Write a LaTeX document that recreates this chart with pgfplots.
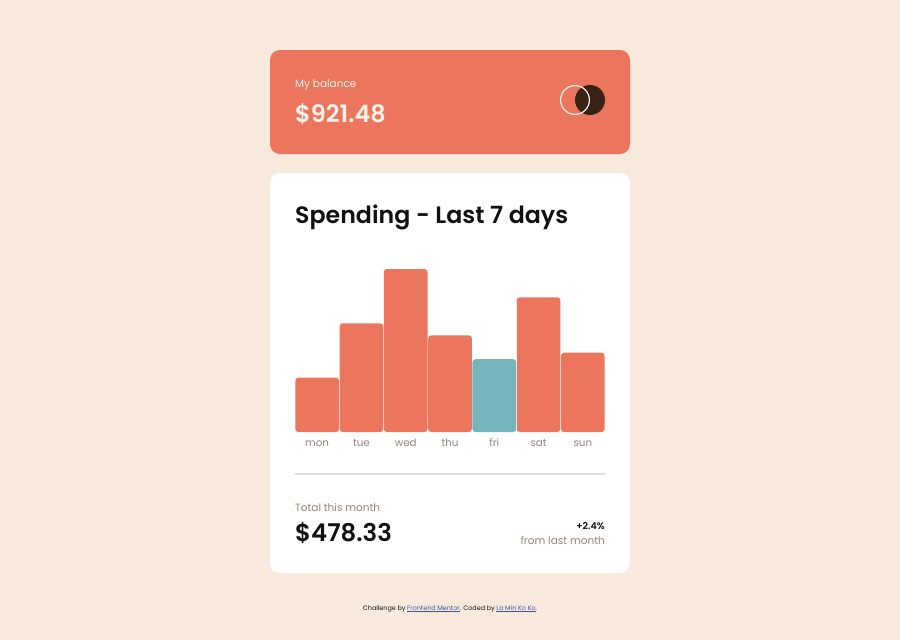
\documentclass[border=0pt]{standalone}
\usepackage{fontspec}
\setmainfont{Poppins}[BoldFont={Poppins SemiBold}]
\usepackage{pgfplots}
\pgfplotsset{compat=1.18}
\definecolor{cream}{HTML}{F8E9DD}
\definecolor{softred}{HTML}{EC755D}
\definecolor{cyanb}{HTML}{76B5BC}
\definecolor{darkbrown}{HTML}{382314}
\definecolor{medbrown}{HTML}{93867B}
\definecolor{paleorange}{HTML}{FFF3EA}
\definecolor{linecol}{HTML}{DEDAD5}
\definecolor{ink}{HTML}{111111}
\definecolor{linkblue}{HTML}{3E52A3}
\begin{document}
\begin{tikzpicture}[x=1pt,y=-1pt,every node/.style={inner sep=0pt}]
\fill[cream] (0,0) rectangle (900,640);
% balance card
\fill[softred, rounded corners=10pt] (270,50) rectangle (630,154);
\node[anchor=base west, text=paleorange, font=\fontsize{10.5}{12}\selectfont] at (295,87) {My balance};
\node[anchor=base west, text=paleorange, font=\fontsize{24}{28}\selectfont\bfseries] at (295,122) {\$921.48};
\fill[darkbrown] (590,100) circle[radius=15pt];
\draw[paleorange, line width=1.2pt] (575,100) circle[radius=14.4pt];
% main card
\fill[white, rounded corners=10pt] (270,173) rectangle (630,573);
\node[anchor=base west, text=ink, font=\fontsize{23.7}{30}\selectfont\bfseries] at (295,223) {Spending - Last 7 days};
\begin{axis}[
  at={(295pt,-432pt)}, anchor=south west,
  scale only axis, width=310pt, height=163pt,
  xmin=-0.5, xmax=6.5, ymin=0, ymax=52.36,
  clip=false,
  hide y axis,
  axis x line*=bottom,
  x axis line style={draw=none},
  xtick={0,1,2,3,4,5,6},
  xticklabels={mon,tue,wed,thu,fri,sat,sun},
  xtick style={draw=none},
  major tick length=0pt,
  xticklabel style={anchor=base, yshift=-14pt, text=medbrown, font=\fontsize{10.3}{12}\selectfont},
]
\addplot[ybar, bar width=43.6pt, bar shift=0pt, fill=softred, draw=none, rounded corners=3pt]
  coordinates {(0,17.45) (1,34.91) (2,52.36) (3,31.07) (5,43.28) (6,25.48)};
\addplot[ybar, bar width=43.6pt, bar shift=0pt, fill=cyanb, draw=none, rounded corners=3pt]
  coordinates {(4,23.39)};
\end{axis}
\draw[linecol, line width=1.8pt] (295,474) -- (605,474);
\node[anchor=base west, text=medbrown, font=\fontsize{10.5}{13}\selectfont] at (295,511) {Total this month};
\node[anchor=base west, text=ink, font=\fontsize{24.4}{30}\selectfont\bfseries] at (295,541) {\$478.33};
\node[anchor=base east, text=ink, font=\fontsize{9.5}{12}\selectfont\bfseries] at (605,529) {+2.4\%};
\node[anchor=base east, text=medbrown, font=\fontsize{10.5}{13}\selectfont] at (605,544) {from last month};
% footer
\node[anchor=base, text=ink, font=\fontsize{6.4}{8}\selectfont] at (450,610)
  {Challenge by \textcolor{linkblue}{\underline{Frontend Mentor}}. Coded by \textcolor{linkblue}{\underline{La Min Ko Ko}}.};
\end{tikzpicture}
\end{document}
